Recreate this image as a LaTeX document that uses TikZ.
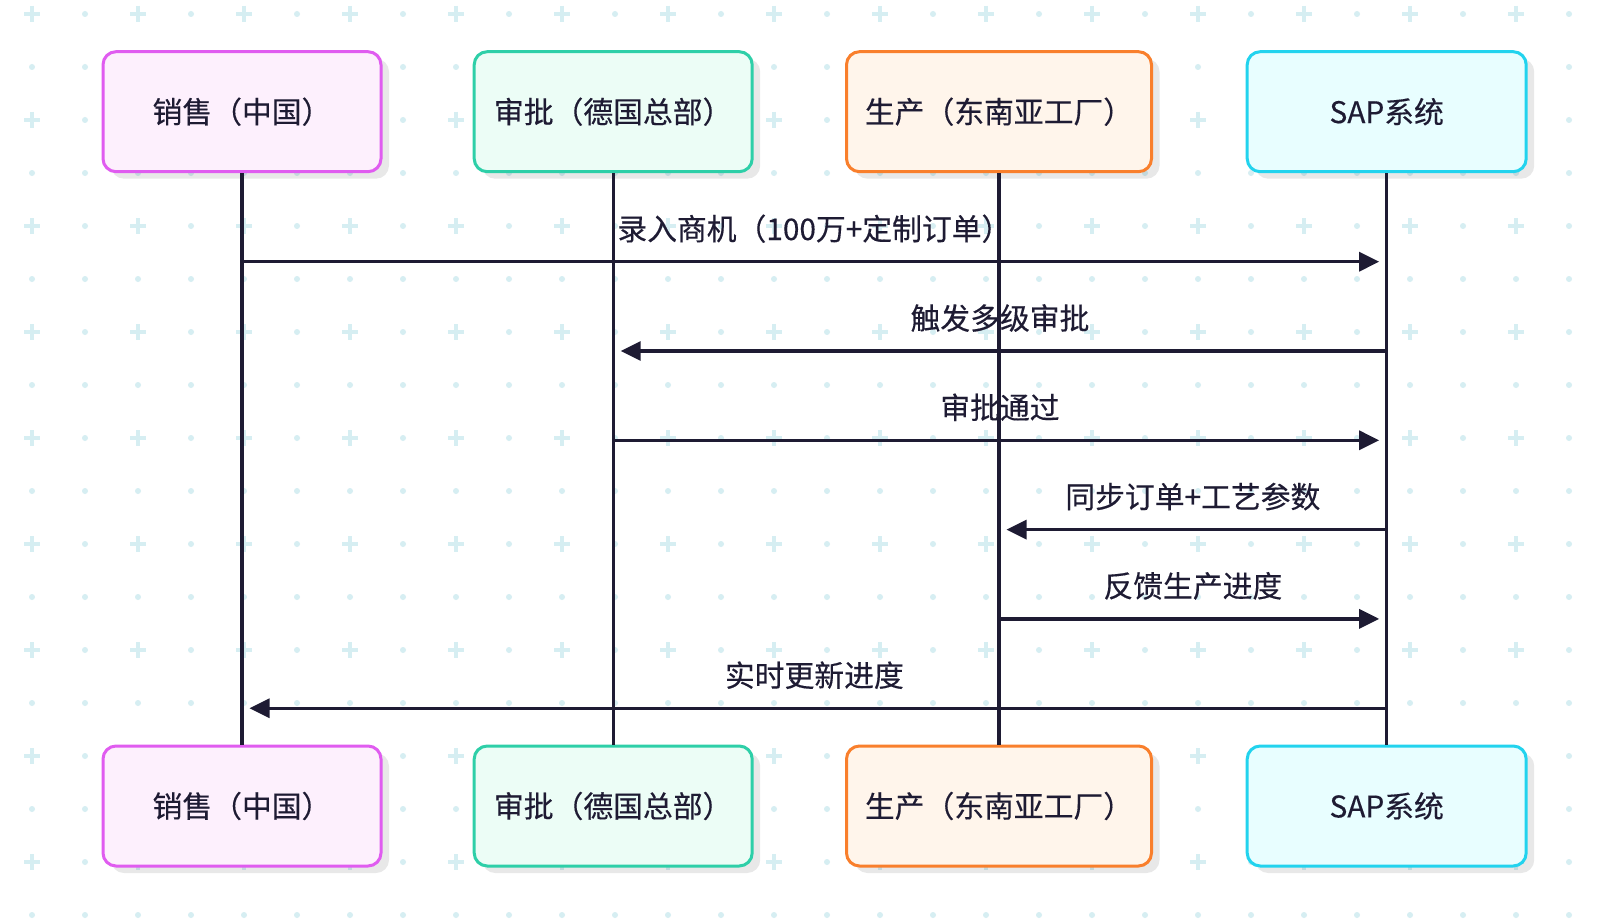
\documentclass[tikz,border=0pt]{standalone}
\usepackage{fontspec}
\setmainfont{Noto Sans CJK SC}[FakeBold=0.35]
\usetikzlibrary{arrows.meta,shadows}
\definecolor{ink}{HTML}{1E1B33}
\definecolor{patt}{HTML}{D6EEF2}
\definecolor{salesline}{HTML}{E05CF0}
\definecolor{salesfill}{HTML}{FDF0FD}
\definecolor{approvalline}{HTML}{2ECFA8}
\definecolor{approvalfill}{HTML}{ECFDF6}
\definecolor{plantline}{HTML}{F97F2C}
\definecolor{plantfill}{HTML}{FFF5EB}
\definecolor{sapline}{HTML}{22D3EE}
\definecolor{sapfill}{HTML}{E8FEFF}

\begin{document}
\begin{tikzpicture}[x=0.5pt,y=-0.5pt,
		actor/.style={draw, line width=1.5pt, rounded corners=6.5pt, minimum height=60pt, text=ink, font=\fontsize{14.9}{17}\selectfont, drop shadow={shadow xshift=4pt, shadow yshift=-3.5pt, fill=black, opacity=0.09}},
		msg/.style={-{Triangle[length=10pt,width=9.5pt]}, ink, line width=1.6pt, shorten >=3.75pt},
		lbl/.style={midway, yshift=16.5pt, text=ink, font=\fontsize{14.9}{17}\selectfont}]
			\useasboundingbox (0,0) rectangle (1606,920);
			\fill[white] (0,0) rectangle (1606,920);
			\foreach \i in {0,...,29}
			\foreach \j in {0,...,17}
			{
				\pgfmathtruncatemacro\cross{and(iseven(\i),iseven(\j))}
				\ifnum\cross=1
					\draw[patt, line width=2pt] (32+53*\i-8,14+53*\j) -- ++(16,0) (32+53*\i,14+53*\j-8) -- ++(0,16);
				\else
					\fill[patt] (32+53*\i,14+53*\j) circle[radius=1.5pt];
				\fi
			}
			
			\foreach \y/\s in {111.7/top,806/bot}
			{
				\node[actor, draw=salesline, fill=salesfill, minimum width=139pt] (sales-\s) at (242,\y) {销售（中国）};
				\node[actor, draw=approvalline, fill=approvalfill, minimum width=139pt] (approval-\s) at (613.2,\y) {审批（德国总部）};
				\node[actor, draw=plantline, fill=plantfill, minimum width=152.5pt] (plant-\s) at (999,\y) {生产（东南亚工厂）};
				\node[actor, draw=sapline, fill=sapfill, minimum width=139.5pt] (sap-\s) at (1386.7,\y) {SAP系统};
			}
			\foreach \n in {sales,approval,plant,sap}
			\draw[ink, line width=1.6pt] (\n-top.south) -- (\n-bot.north);
			
			\foreach \k in {1,...,6}
			\coordinate (m\k) at (0,172.4+89.3*\k);
			
			\draw[msg] (sales-top |- m1) -- (sap-top |- m1) node[lbl] {录入商机（100万+定制订单）};
			\draw[msg] (sap-top |- m2) -- (approval-top |- m2) node[lbl] {触发多级审批};
			\draw[msg] (approval-top |- m3) -- (sap-top |- m3) node[lbl] {审批通过};
			\draw[msg] (sap-top |- m4) -- (plant-top |- m4) node[lbl] {同步订单+工艺参数};
			\draw[msg] (plant-top |- m5) -- (sap-top |- m5) node[lbl] {反馈生产进度};
			\draw[msg] (sap-top |- m6) -- (sales-top |- m6) node[lbl] {实时更新进度};
		\end{tikzpicture}
\end{document}
